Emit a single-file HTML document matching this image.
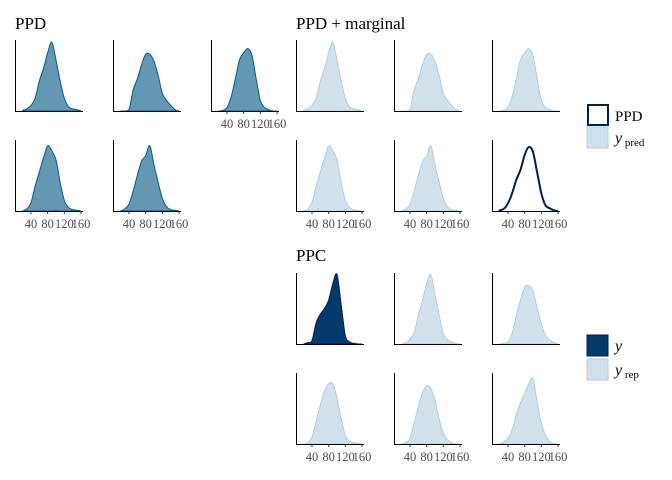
<!DOCTYPE html>
<html><head><meta charset="utf-8"><style>
body{margin:0;background:#fff}
svg{display:block;font-family:"Liberation Serif",serif}
</style></head><body>
<svg id="c" width="672" height="480">
<text x="15" y="29" font-size="17">PPD</text>
<text x="296" y="29" font-size="17">PPD + marginal</text>
<text x="296" y="261" font-size="17">PPC</text>
<g>
<rect x="588" y="105" width="20" height="20" fill="#fff" stroke="#011f4b" stroke-width="2"/>
<text x="615" y="121" font-size="15">PPD</text>
<rect x="587" y="127" width="21" height="21" fill="#d1e1ec" stroke="#b3cde0"/>
<text x="615" y="143" font-size="16" font-style="italic">y<tspan font-style="normal" font-size="11" dy="3"> pred</tspan></text>
</g>
<g>
<rect x="587" y="335" width="21" height="21" fill="#03396c" stroke="#011f4b"/>
<text x="615" y="351" font-size="16" font-style="italic">y</text>
<rect x="587" y="359" width="21" height="21" fill="#d1e1ec" stroke="#b3cde0"/>
<text x="615" y="375" font-size="16" font-style="italic">y<tspan font-style="normal" font-size="11" dy="3"> rep</tspan></text>
</g>
</svg>
<script>
const xGrid=[20,30,40,50,60,70,80,90,100,110,120,130,140,150,160];
const ticks=[40,80,120,160];
const dA=[0.01,0.03,0.08,0.18,0.42,0.6,0.82,0.97,0.72,0.42,0.18,0.06,0.03,0.02,0];
const dB=[0,0,0.02,0.3,0.45,0.65,0.8,0.8,0.7,0.5,0.25,0.15,0.08,0.02,0];
const dC=[0,0.01,0.05,0.2,0.45,0.72,0.82,0.88,0.78,0.45,0.15,0.05,0.02,0,0];
const dD=[0,0.03,0.12,0.35,0.55,0.75,0.92,0.85,0.72,0.4,0.15,0.05,0.02,0.01,0];
const dE=[0,0.03,0.1,0.28,0.5,0.7,0.78,0.92,0.65,0.4,0.18,0.06,0.02,0.01,0];
const dMarg=[0.01,0.03,0.11,0.25,0.44,0.58,0.79,0.9,0.83,0.54,0.25,0.08,0.04,0.01,0];
const dY=[0,0.02,0.05,0.3,0.42,0.5,0.62,0.85,0.98,0.55,0.12,0.03,0.01,0,0];
const dR1=[0,0.02,0.07,0.16,0.4,0.62,0.85,0.98,0.7,0.4,0.15,0.06,0.03,0.01,0];
const dR2=[0,0.01,0.03,0.15,0.4,0.62,0.8,0.82,0.75,0.5,0.28,0.12,0.06,0.02,0];
const dR3=[0,0.02,0.1,0.32,0.55,0.75,0.85,0.85,0.65,0.35,0.12,0.04,0.02,0.01,0];
const dR4=[0,0.02,0.08,0.3,0.52,0.72,0.82,0.78,0.62,0.35,0.15,0.06,0.02,0,0];
const dR5=[0,0.03,0.08,0.2,0.42,0.58,0.72,0.85,0.92,0.58,0.3,0.12,0.04,0.01,0];
const svg=document.getElementById('c');
const NS='http://www.w3.org/2000/svg';
const PW=68,PH=71;
function xs(x0,v){return x0-0.7+v*0.417;}
function panel(x0,yb,data,style,showTicks,name){
 const g=document.createElementNS(NS,'g');
 
 
 const pts=data.map((v,i)=>[xs(x0,xGrid[i]),yb-v*PH]);
 let d='M'+pts[0][0].toFixed(1)+','+yb+' L'+pts[0][0].toFixed(1)+','+pts[0][1].toFixed(1);
 for(let i=0;i<pts.length-1;i++){
  const p0=pts[Math.max(0,i-1)],p1=pts[i],p2=pts[i+1],p3=pts[Math.min(pts.length-1,i+2)];
  const c1=[p1[0]+(p2[0]-p0[0])/6,Math.min(yb,p1[1]+(p2[1]-p0[1])/6)];
  const c2=[p2[0]-(p3[0]-p1[0])/6,Math.min(yb,p2[1]-(p3[1]-p1[1])/6)];
  d+=' C'+c1[0].toFixed(1)+','+c1[1].toFixed(1)+' '+c2[0].toFixed(1)+','+c2[1].toFixed(1)+' '+p2[0].toFixed(1)+','+p2[1].toFixed(1);
 }
 d+=' L'+pts[pts.length-1][0].toFixed(1)+','+yb;
 const p=document.createElementNS(NS,'path');
 p.setAttribute('d',style.outline?d:d+'Z');
 p.setAttribute('fill',style.fill);
 p.setAttribute('stroke',style.stroke);
 p.setAttribute('stroke-width',style.sw||1);
 
 
 g.appendChild(p);
 const ax=document.createElementNS(NS,'path');
 ax.setAttribute('d','M'+(x0+0.5)+','+(yb-PH)+' V'+(yb+0.5)+' H'+(x0+PW));
 ax.setAttribute('stroke','#000');ax.setAttribute('fill','none');
 
 
 g.appendChild(ax);
 if(showTicks){
  ticks.forEach(t=>{
   const x=xs(x0,t);
   const l=document.createElementNS(NS,'line');
   l.setAttribute('x1',x);l.setAttribute('x2',x);l.setAttribute('y1',yb);l.setAttribute('y2',yb+3);
   l.setAttribute('stroke','#333');
   
   
   g.appendChild(l);
   const tx=document.createElementNS(NS,'text');
   tx.setAttribute('x',x);tx.setAttribute('y',yb+17);
   tx.setAttribute('text-anchor','middle');tx.setAttribute('font-size','12.5');tx.setAttribute('fill','#4d4d4d');
   tx.textContent=t;
   
   
   g.appendChild(tx);
  });
 }
 svg.appendChild(g);
}
const mid={fill:'#6497b1',stroke:'#005b96'};
const light={fill:'#d1e1ec',stroke:'#b3cde0'};
const dark={fill:'#03396c',stroke:'#011f4b'};
const outl={fill:'none',stroke:'#011f4b',sw:2,outline:true};
panel(15,111,dA,mid,false,'ppd-panel-1');
panel(113,111,dB,mid,false,'ppd-panel-2');
panel(211,111,dC,mid,true,'ppd-panel-3');
panel(15,211,dD,mid,true,'ppd-panel-4');
panel(113,211,dE,mid,true,'ppd-panel-5');
panel(296,111,dA,light,false,'marginal-panel-1');
panel(394,111,dB,light,false,'marginal-panel-2');
panel(492,111,dC,light,false,'marginal-panel-3');
panel(296,211,dD,light,true,'marginal-panel-4');
panel(394,211,dE,light,true,'marginal-panel-5');
panel(492,211,dMarg,outl,true,'marginal-panel-ppd');
panel(296,344,dY,dark,false,'ppc-panel-y');
panel(394,344,dR1,light,false,'ppc-panel-rep-1');
panel(492,344,dR2,light,false,'ppc-panel-rep-2');
panel(296,444,dR3,light,true,'ppc-panel-rep-3');
panel(394,444,dR4,light,true,'ppc-panel-rep-4');
panel(492,444,dR5,light,true,'ppc-panel-rep-5');
</script>
</body></html>
